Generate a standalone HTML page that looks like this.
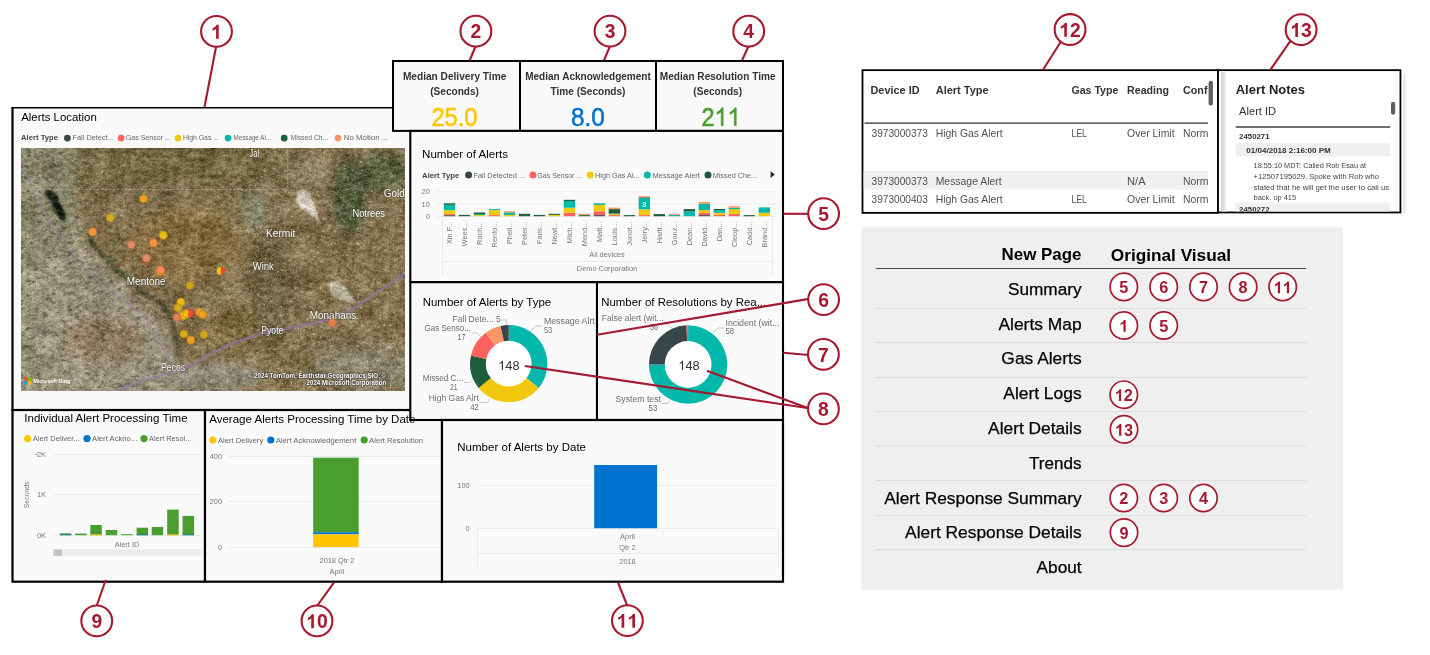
<!DOCTYPE html>
<html><head><meta charset="utf-8"><title>Dashboard mapping</title>
<style>
html,body{margin:0;padding:0;background:#fff;}
body{width:1430px;height:655px;overflow:hidden;font-family:"Liberation Sans",sans-serif;}
svg{display:block;position:absolute;left:0;top:0;will-change:transform;}
text{font-family:"Liberation Sans",sans-serif;}
.t{font-size:11.45px;fill:#000;}
.lg{font-size:7.6px;fill:#666;}
.lgb{font-size:7.6px;fill:#444;font-weight:bold;}
.ax{font-size:7.4px;fill:#777;}
.dl{font-size:9.2px;fill:#6e6e6e;}
.city{font-size:10.6px;fill:#fff;}
.cn{font-weight:bold;fill:#a6192e;text-anchor:middle;}
.tb{font-size:17.4px;fill:#000;stroke:#000;stroke-width:0.25px;}
.tbb{font-size:17.1px;fill:#000;font-weight:bold;}
.kp{font-size:10.1px;font-weight:bold;fill:#333;text-anchor:middle;}
.kv{font-size:25px;text-anchor:middle;}
.th{font-size:10.9px;font-weight:bold;fill:#333;}
.td{font-size:10.1px;fill:#505050;}
</style></head><body>
<svg width="1430" height="655" viewBox="0 0 1430 655">
<defs>
<filter id="sat" x="0" y="0" width="100%" height="100%" color-interpolation-filters="sRGB">
  <feTurbulence type="fractalNoise" baseFrequency="0.19 0.24" numOctaves="3" seed="11" result="n1"/>
  <feColorMatrix in="n1" type="matrix" values="1 0 0 0 0  1 0 0 0 0  1 0 0 0 0  0 0 0 0 1" result="g1"/>
  <feTurbulence type="fractalNoise" baseFrequency="0.045" numOctaves="3" seed="4" result="n2"/>
  <feColorMatrix in="n2" type="matrix" values="0 1 0 0 0  0 1 0 0 0  0 1 0 0 0  0 0 0 0 1" result="g2"/>
  <feTurbulence type="fractalNoise" baseFrequency="0.55 0.6" numOctaves="2" seed="23" result="n3"/>
  <feColorMatrix in="n3" type="matrix" values="0 0 1 0 0  0 0 1 0 0  0 0 1 0 0  0 0 0 0 1" result="g3"/>
  <feComposite in="SourceGraphic" in2="g1" operator="arithmetic" k1="0" k2="1" k3="0.36" k4="-0.18" result="c1"/>
  <feComposite in="c1" in2="g2" operator="arithmetic" k1="0" k2="1" k3="0.3" k4="-0.15" result="c2"/>
  <feComposite in="c2" in2="g3" operator="arithmetic" k1="0" k2="1" k3="0.3" k4="-0.15" result="c3"/>
  <feColorMatrix in="c3" type="matrix" values="0.94 0 0 0 0  0 0.935 0 0 0  0 0 0.92 0 0  0 0 0 1 0"/>
</filter>
<filter id="speck" x="0" y="0" width="100%" height="100%" color-interpolation-filters="sRGB">
  <feTurbulence type="fractalNoise" baseFrequency="0.3 0.33" numOctaves="2" seed="8"/>
  <feColorMatrix type="matrix" values="0 0 0 0 0.86  0 0 0 0 0.84  0 0 0 0 0.74  0 0 0 10 -6.9"/>
</filter>
<filter id="dspeck" x="0" y="0" width="100%" height="100%" color-interpolation-filters="sRGB">
  <feTurbulence type="fractalNoise" baseFrequency="0.12 0.2" numOctaves="3" seed="31"/>
  <feColorMatrix type="matrix" values="0 0 0 0 0.22  0 0 0 0 0.24  0 0 0 0 0.16  0 0 0 -10 3.7"/>
</filter>
<linearGradient id="spm" x1="0" x2="1"><stop offset="0" stop-color="#fff" stop-opacity="0"/><stop offset="0.5" stop-color="#fff" stop-opacity="0.1"/><stop offset="0.62" stop-color="#fff" stop-opacity="1"/><stop offset="1" stop-color="#fff" stop-opacity="1"/></linearGradient>
<mask id="rightmask"><rect x="21" y="148" width="384" height="243" fill="url(#spm)"/></mask>
<linearGradient id="spl" x1="0" x2="1"><stop offset="0" stop-color="#fff" stop-opacity="1"/><stop offset="0.3" stop-color="#fff" stop-opacity="0.8"/><stop offset="0.5" stop-color="#fff" stop-opacity="0"/></linearGradient>
<mask id="leftmask"><rect x="21" y="148" width="384" height="243" fill="url(#spl)"/></mask>
<filter id="b6"><feGaussianBlur stdDeviation="6"/></filter>
<filter id="b3"><feGaussianBlur stdDeviation="3"/></filter>
<filter id="b1"><feGaussianBlur stdDeviation="1.2"/></filter>
<clipPath id="mapclip"><rect x="21" y="148" width="383.5" height="243"/></clipPath>
<clipPath id="b10clip"><rect x="206" y="411" width="236" height="170"/></clipPath>
<clipPath id="b12clip"><rect x="863.4" y="71.1" width="344.6" height="140.8"/></clipPath>
<clipPath id="b13clip"><rect x="1219" y="71.1" width="180.5" height="140.4"/></clipPath>
</defs>

<rect x="12.5" y="107.7" width="400" height="302.3" fill="#fafafa" />
<line x1="12.5" y1="107" x2="12.5" y2="411" stroke="#000" stroke-width="2.2" />
<line x1="11.4" y1="107.7" x2="412" y2="107.7" stroke="#000" stroke-width="1.4" />
<line x1="11.4" y1="410" x2="412" y2="410" stroke="#000" stroke-width="2" />
<text x="21.2" y="121" class="t" textLength="75.6" lengthAdjust="spacingAndGlyphs">Alerts Location</text>
<text x="21" y="140.3" class="lgb" textLength="37" lengthAdjust="spacingAndGlyphs">Alert Type</text>
<circle cx="67.4" cy="138.1" r="3.4" fill="#374649" />
<text x="72.5" y="140.3" class="lg" textLength="41.3" lengthAdjust="spacingAndGlyphs">Fall Detect...</text>
<circle cx="121.1" cy="138.1" r="3.4" fill="#fd625e" />
<text x="125.8" y="140.3" class="lg" textLength="44.9" lengthAdjust="spacingAndGlyphs">Gas Sensor ...</text>
<circle cx="178" cy="138.1" r="3.4" fill="#f2c80f" />
<text x="182.9" y="140.3" class="lg" textLength="36" lengthAdjust="spacingAndGlyphs">High Gas ...</text>
<circle cx="228.1" cy="138.1" r="3.4" fill="#01b8aa" />
<text x="233.5" y="140.3" class="lg" textLength="37.5" lengthAdjust="spacingAndGlyphs">Message Al...</text>
<circle cx="284.2" cy="138.1" r="3.4" fill="#1f5c3b" />
<text x="290.6" y="140.3" class="lg" textLength="37.6" lengthAdjust="spacingAndGlyphs">Missed Ch...</text>
<circle cx="338" cy="138.1" r="3.4" fill="#fe9666" />
<text x="343.8" y="140.3" class="lg" textLength="44.5" lengthAdjust="spacingAndGlyphs">No Motion ...</text>
<g clip-path="url(#mapclip)">
<g filter="url(#sat)">
<rect x="21" y="148" width="384" height="243" fill="#8a7854" />
<g filter="url(#b6)">
<path d="M10,235 L85,245 L125,285 L160,320 L175,345 L180,400 L10,400 Z" fill="#a49d88"/>
<path d="M10,140 L80,140 L72,190 L85,240 L10,250 Z" fill="#939075"/>
<path d="M80,138 L300,138 L292,186 L80,190 Z" fill="#7b7048"/>
<ellipse cx="105" cy="338" rx="40" ry="24" fill="#9a856a"/>
<ellipse cx="350" cy="196" rx="17" ry="38" fill="#525d3e"/>
<ellipse cx="383" cy="172" rx="24" ry="20" fill="#5e6645"/>
<ellipse cx="215" cy="378" rx="45" ry="15" fill="#999584"/>
<ellipse cx="360" cy="368" rx="50" ry="25" fill="#938b72"/>
<ellipse cx="185" cy="245" rx="55" ry="38" fill="#917648"/>
<ellipse cx="235" cy="330" rx="28" ry="22" fill="#877548"/>
<ellipse cx="272" cy="285" rx="20" ry="55" fill="#756b46"/>
<ellipse cx="255" cy="210" rx="14" ry="22" fill="#8d8a72"/>
<ellipse cx="305" cy="175" rx="22" ry="20" fill="#948a66"/>
<ellipse cx="385" cy="285" rx="28" ry="30" fill="#8a7b54"/>
</g>
<g filter="url(#b1)">
<path d="M296.5,192 Q302,188 309,192 L314,203 L319,222 L313,217 L308,211 L301,209 L297,201 Z" fill="#dcd8cb" opacity="0.95"/>
<path d="M328,283 Q336,279 346,287 L356,303 L346,302 L338,299 L331,294 Z" fill="#cfcab9" opacity="0.9"/>
<path d="M386,343 l7,3 l-1.5,3.5 l-7,-3 z" fill="#c4bfae" opacity="0.7"/>
<path d="M44,190 L50,189 L54,192 L58,196 L59,203 L63,208 L66,214 L65,221 L60,220 L57,214 L54,209 L52,203 L48,199 L45,195 Z" fill="#1a2216"/>
<path d="M87.8,237 L102.6,255.6 L117.5,270.4 L143.4,292.7 L162,303.8 L173,322.4 L176.8,341" stroke="#474c33" stroke-width="5" fill="none" opacity="0.75" stroke-linejoin="round"/>
<path d="M176.8,341 L180,358 L186,372" stroke="#50533a" stroke-width="3" fill="none" opacity="0.6"/>
<path d="M25,260 L50,275 L70,300 M30,330 L60,335 L85,320 M40,290 L60,310 M95,300 L110,330 L100,360" stroke="#77745f" stroke-width="1.5" fill="none" opacity="0.7"/>
</g>
</g>
<g mask="url(#rightmask)" opacity="0.55"><rect x="21" y="148" width="384" height="243" filter="url(#speck)"/></g>
<g mask="url(#leftmask)" opacity="0.5"><rect x="21" y="148" width="384" height="243" filter="url(#dspeck)"/></g>
<path d="M21,189.6 H287.4 V148" stroke="#c4c4bc" stroke-width="0.9" stroke-dasharray="2.5 1.5" fill="none" opacity="0.6"/>
<g stroke="#9a7fa8" fill="none" opacity="0.75" stroke-linejoin="round">
<path opacity="0.7" d="M21,159 L32,189 L43,211 L65.5,244.5 L95,278 L117.5,296.4 L143.4,315 L162,344.7 L173,367 L176,371" stroke-width="1.6"/>
<path d="M113.8,391 L150.9,378 L176.8,370.6" stroke-width="2"/>
<path d="M184,371 L188,391" stroke-width="1.3"/>
<path d="M176.8,370.6 L190,366 L206.5,355.8 L228.8,344.7 L262,333.5 L299,326 L332.7,318.7 L355,307.6 L377,292.7 L404.5,273.5" stroke-width="2.6"/>
</g>
<path d="M176.8,370.6 L190,366 L206.5,355.8 L228.8,344.7 L262,333.5 L299,326 L332.7,318.7 L355,307.6 L377,292.7 L404.5,273.5" stroke="#6a5478" stroke-width="0.6" fill="none" opacity="0.6"/>
<text x="249.3" y="157.3" class="city" textLength="9.9" lengthAdjust="spacingAndGlyphs" stroke="#2a2a1a" stroke-width="1.4" stroke-opacity="0.4" paint-order="stroke">Jal</text>
<text x="383.8" y="196.6" class="city" textLength="21" lengthAdjust="spacingAndGlyphs" stroke="#2a2a1a" stroke-width="1.4" stroke-opacity="0.4" paint-order="stroke">Gold</text>
<text x="352.5" y="217.4" class="city" textLength="32.5" lengthAdjust="spacingAndGlyphs" stroke="#2a2a1a" stroke-width="1.4" stroke-opacity="0.4" paint-order="stroke">Notrees</text>
<text x="266" y="236.7" class="city" textLength="29.3" lengthAdjust="spacingAndGlyphs" stroke="#2a2a1a" stroke-width="1.4" stroke-opacity="0.4" paint-order="stroke">Kermit</text>
<text x="252.7" y="269.6" class="city" textLength="21.2" lengthAdjust="spacingAndGlyphs" stroke="#2a2a1a" stroke-width="1.4" stroke-opacity="0.4" paint-order="stroke">Wink</text>
<text x="126.8" y="284.5" class="city" textLength="38.8" lengthAdjust="spacingAndGlyphs" stroke="#2a2a1a" stroke-width="1.4" stroke-opacity="0.4" paint-order="stroke">Mentone</text>
<text x="309.8" y="319" class="city" textLength="46.4" lengthAdjust="spacingAndGlyphs" stroke="#2a2a1a" stroke-width="1.4" stroke-opacity="0.4" paint-order="stroke">Monahans</text>
<text x="261.2" y="334.4" class="city" textLength="22.2" lengthAdjust="spacingAndGlyphs" stroke="#2a2a1a" stroke-width="1.4" stroke-opacity="0.4" paint-order="stroke">Pyote</text>
<text x="161" y="370.8" class="city" textLength="24.2" lengthAdjust="spacingAndGlyphs" stroke="#2a2a1a" stroke-width="1.4" stroke-opacity="0.4" paint-order="stroke">Pecos</text>
<circle cx="143.5" cy="198.8" r="3.9" fill="#f5a623" stroke="#d28118" stroke-width="0.9" fill-opacity="0.92"/>
<circle cx="110.3" cy="217.9" r="3.9" fill="#d9b21c" stroke="#ba8a13" stroke-width="0.9" fill-opacity="0.92"/>
<circle cx="92.7" cy="231.8" r="3.9" fill="#ff9a3c" stroke="#db782a" stroke-width="0.9" fill-opacity="0.92"/>
<circle cx="163.4" cy="235.3" r="3.9" fill="#f2c811" stroke="#d09c0b" stroke-width="0.9" fill-opacity="0.92"/>
<circle cx="153.4" cy="242.9" r="3.9" fill="#ff9a3c" stroke="#db782a" stroke-width="0.9" fill-opacity="0.92"/>
<circle cx="131.4" cy="244.7" r="3.9" fill="#e8916a" stroke="#c7714a" stroke-width="0.9" fill-opacity="0.92"/>
<circle cx="146.5" cy="258.2" r="3.9" fill="#e8916a" stroke="#c7714a" stroke-width="0.9" fill-opacity="0.92"/>
<circle cx="160.2" cy="271.5" r="3.9" fill="#e9b320" stroke="#c88b16" stroke-width="0.9" fill-opacity="0.92"/>
<circle cx="160.6" cy="270" r="3.9" fill="#ff8c5a" stroke="#db6d3e" stroke-width="0.9" fill-opacity="0.92"/>
<circle cx="189.8" cy="285.5" r="3.9" fill="#d9a81e" stroke="#ba8315" stroke-width="0.9" fill-opacity="0.92"/>
<circle cx="180.8" cy="302.1" r="3.9" fill="#f2c20f" stroke="#d0970a" stroke-width="0.9" fill-opacity="0.92"/>
<circle cx="177.9" cy="307.7" r="3.9" fill="#d9b21c" stroke="#ba8a13" stroke-width="0.9" fill-opacity="0.92"/>
<circle cx="199.7" cy="312.1" r="3.9" fill="#f0a826" stroke="#ce831a" stroke-width="0.9" fill-opacity="0.92"/>
<circle cx="202.7" cy="314.6" r="3.9" fill="#f0a826" stroke="#ce831a" stroke-width="0.9" fill-opacity="0.92"/>
<circle cx="183.2" cy="315.6" r="3.9" fill="#f2c20f" stroke="#d0970a" stroke-width="0.9" fill-opacity="0.92"/>
<circle cx="189.8" cy="313.3" r="3.9" fill="#f5453f" stroke="#d2352c" stroke-width="0.9" fill-opacity="0.92"/>
<circle cx="186.8" cy="313.7" r="3.9" fill="#f2c20f" stroke="#d0970a" stroke-width="0.9" fill-opacity="0.92"/>
<circle cx="176.9" cy="317.2" r="3.9" fill="#e8805a" stroke="#c7633e" stroke-width="0.9" fill-opacity="0.92"/>
<circle cx="183.8" cy="333.9" r="3.9" fill="#d9b21c" stroke="#ba8a13" stroke-width="0.9" fill-opacity="0.92"/>
<circle cx="203.9" cy="334.5" r="3.9" fill="#d4ae22" stroke="#b68717" stroke-width="0.9" fill-opacity="0.92"/>
<circle cx="190.8" cy="339.9" r="3.9" fill="#f0a826" stroke="#ce831a" stroke-width="0.9" fill-opacity="0.92"/>
<circle cx="332.4" cy="322.7" r="3.9" fill="#e8804a" stroke="#c76333" stroke-width="0.9" fill-opacity="0.92"/>
<path d="M220.9,266.4 a4.2,4.2 0 0 0 0,8.4 z" fill="#f2c811"/><path d="M220.9,266.4 a4.2,4.2 0 0 1 0,8.4 z" fill="#f5453f"/>
<path d="M188.3,309.4 a4.2,4.2 0 0 1 0,8.4 z" fill="#f5453f"/>
<rect x="24.4" y="377.2" width="3.4" height="3.5" fill="#f25022" />
<rect x="28.2" y="377.2" width="3.4" height="3.5" fill="#7fba00" />
<rect x="24.4" y="381.1" width="3.4" height="3.5" fill="#00a4ef" />
<rect x="28.2" y="381.1" width="3.4" height="3.5" fill="#ffb900" />
<text x="33.5" y="382.9" font-size="6.2" font-weight="bold" fill="#fff" textLength="36.7" lengthAdjust="spacingAndGlyphs">Microsoft Bing</text>
<text x="386.2" y="377.7" font-size="6.4" fill="#fff" text-anchor="end" textLength="138.5" lengthAdjust="spacingAndGlyphs" stroke="#222" stroke-width="1.1" stroke-opacity="0.7" paint-order="stroke" font-weight="bold">© 2024 TomTom, Earthstar Geographics SIO, ©</text>
<text x="386.2" y="385" font-size="6.4" fill="#fff" text-anchor="end" textLength="79.6" lengthAdjust="spacingAndGlyphs" stroke="#222" stroke-width="1.1" stroke-opacity="0.7" paint-order="stroke" font-weight="bold">2024 Microsoft Corporation</text>
</g>
<rect x="12.5" y="410" width="192.5" height="171.7" fill="#fafafa" stroke="#000" stroke-width="2.2" />
<text x="24.3" y="422" class="t" textLength="163.3" lengthAdjust="spacingAndGlyphs">Individual Alert Processing Time</text>
<circle cx="27.5" cy="438.6" r="3.6" fill="#ffc600" />
<text x="32.7" y="441" class="lg" textLength="47" lengthAdjust="spacingAndGlyphs">Alert Deliver...</text>
<circle cx="87" cy="438.6" r="3.6" fill="#0073cf" />
<text x="92" y="441" class="lg" textLength="45.3" lengthAdjust="spacingAndGlyphs">Alert Ackno...</text>
<circle cx="144" cy="438.6" r="3.6" fill="#4a9e2f" />
<text x="149" y="441" class="lg" textLength="42.3" lengthAdjust="spacingAndGlyphs">Alert Resol...</text>
<line x1="53.5" y1="454.5" x2="201" y2="454.5" stroke="#eaeaea" stroke-width="1" />
<text x="46" y="457.0" class="ax" text-anchor="end">2K</text>
<line x1="53.5" y1="494.5" x2="201" y2="494.5" stroke="#eaeaea" stroke-width="1" />
<text x="46" y="497.40000000000003" class="ax" text-anchor="end">1K</text>
<line x1="53.5" y1="535.5" x2="201" y2="535.5" stroke="#eaeaea" stroke-width="1" />
<text x="46" y="537.8000000000001" class="ax" text-anchor="end">0K</text>
<text x="29.5" y="494.8" class="ax" text-anchor="middle" transform="rotate(-90 29.5 494.8)" textLength="27" lengthAdjust="spacingAndGlyphs">Seconds</text>
<rect x="59.8" y="533.4" width="11.5" height="1.8000000000000682" fill="#4a9e2f" />
<rect x="59.8" y="534.5" width="11.5" height="0.7" fill="#0073cf" />
<rect x="75.2" y="533.6" width="11.5" height="1.6000000000000227" fill="#4a9e2f" />
<rect x="90.3" y="525" width="11.5" height="10.200000000000045" fill="#4a9e2f" />
<rect x="90.3" y="534.3" width="11.5" height="0.9" fill="#ffc600" />
<rect x="105.7" y="530" width="11.5" height="5.2000000000000455" fill="#4a9e2f" />
<rect x="121.2" y="534.2" width="11.5" height="1.0" fill="#4a9e2f" />
<rect x="136.6" y="527.7" width="11.5" height="7.5" fill="#4a9e2f" />
<rect x="136.6" y="534.5" width="11.5" height="0.7" fill="#0073cf" />
<rect x="151.7" y="527" width="11.5" height="8.200000000000045" fill="#4a9e2f" />
<rect x="167.2" y="509.6" width="11.5" height="25.600000000000023" fill="#4a9e2f" />
<rect x="167.2" y="534.3" width="11.5" height="0.9" fill="#ffc600" />
<rect x="182.6" y="515.9" width="11.5" height="19.300000000000068" fill="#4a9e2f" />
<rect x="182.6" y="534.5" width="11.5" height="0.7" fill="#0073cf" />
<text x="127" y="547" class="ax" text-anchor="middle" font-size="7.8">Alert ID</text>
<circle cx="36.6" cy="454.3" r="0.8" fill="#777" />
<rect x="53.5" y="549.4" width="147.5" height="6.6" fill="#ececec" />
<rect x="53.5" y="549.4" width="8.5" height="6.6" fill="#c4c4c4" />
<rect x="205" y="410" width="237" height="171.7" fill="#fafafa" stroke="#000" stroke-width="2.2" />
<g clip-path="url(#b10clip)">
<circle cx="212.8" cy="440" r="3.6" fill="#ffc600" />
<text x="218" y="442.5" class="lg" textLength="45.2" lengthAdjust="spacingAndGlyphs">Alert Delivery</text>
<circle cx="270.8" cy="440" r="3.6" fill="#0073cf" />
<text x="275.7" y="442.5" class="lg" textLength="80.6" lengthAdjust="spacingAndGlyphs">Alert Acknowledgement</text>
<circle cx="364.2" cy="440" r="3.6" fill="#4a9e2f" />
<text x="369.1" y="442.5" class="lg" textLength="54" lengthAdjust="spacingAndGlyphs">Alert Resolution</text>
<line x1="229" y1="456.5" x2="444" y2="456.5" stroke="#eaeaea" stroke-width="1" />
<text x="222" y="458.9" class="ax" text-anchor="end">400</text>
<line x1="229" y1="501.5" x2="444" y2="501.5" stroke="#eaeaea" stroke-width="1" />
<text x="222" y="504.0" class="ax" text-anchor="end">200</text>
<line x1="229" y1="547.5" x2="444" y2="547.5" stroke="#eaeaea" stroke-width="1" />
<text x="222" y="549.8000000000001" class="ax" text-anchor="end">0</text>
<rect x="313.2" y="457.7" width="45.5" height="74.5" fill="#4a9e2f" />
<rect x="313.2" y="532.2" width="45.5" height="2.1" fill="#0073cf" />
<rect x="313.2" y="534.3" width="45.5" height="12.8" fill="#ffc600" />
<text x="337" y="563.2" class="ax" text-anchor="middle">2018 Qtr 2</text>
<text x="337" y="573.6" class="ax" text-anchor="middle">April</text>
</g>
<rect x="393" y="61" width="390" height="69.9" fill="#fafafa" stroke="#000" stroke-width="2" />
<line x1="520" y1="60" x2="520" y2="131.5" stroke="#000" stroke-width="2" />
<line x1="656" y1="60" x2="656" y2="131.5" stroke="#000" stroke-width="2" />
<text x="454.6" y="79.9" class="kp" textLength="103.4" lengthAdjust="spacingAndGlyphs">Median Delivery Time</text>
<text x="454.6" y="94.6" class="kp" >(Seconds)</text>
<text x="454.5" y="125.7" class="kv" fill="#ffc600" stroke="#ffc600" stroke-width="0.55" textLength="46.1" lengthAdjust="spacingAndGlyphs">25.0</text>
<text x="588" y="79.9" class="kp" textLength="125.7" lengthAdjust="spacingAndGlyphs">Median Acknowledgement</text>
<text x="588" y="94.6" class="kp" >Time (Seconds)</text>
<text x="587.8" y="125.7" class="kv" fill="#0073cf" stroke="#0073cf" stroke-width="0.55" textLength="33.8" lengthAdjust="spacingAndGlyphs">8.0</text>
<text x="717.7" y="79.9" class="kp" textLength="115.7" lengthAdjust="spacingAndGlyphs">Median Resolution Time</text>
<text x="717.7" y="94.6" class="kp" >(Seconds)</text>
<g transform="translate(721.00 125.70) scale(0.9397 1)">
<text x="-20.86" y="0" font-size="25" fill="#4a9e2f" stroke="#4a9e2f" stroke-width="0.55">2</text>
<path d="M763 0 L583 0 L583 1147 Q518 1085 412.5 1023 Q307 961 223 930 L223 1104 Q374 1175 487 1276 Q600 1377 647 1472 L763 1472 Z" fill="#4a9e2f" stroke="#4a9e2f" stroke-width="45.1" transform="translate(-6.95 0) scale(0.01221 -0.01221)"/>
<path d="M763 0 L583 0 L583 1147 Q518 1085 412.5 1023 Q307 961 223 930 L223 1104 Q374 1175 487 1276 Q600 1377 647 1472 L763 1472 Z" fill="#4a9e2f" stroke="#4a9e2f" stroke-width="45.1" transform="translate(6.95 0) scale(0.01221 -0.01221)"/>
</g>
<rect x="410.3" y="130.9" width="372.7" height="151.3" fill="#fafafa" stroke="#000" stroke-width="2.1" />
<text x="422.1" y="158.4" class="t" textLength="85.9" lengthAdjust="spacingAndGlyphs">Number of Alerts</text>
<text x="422.1" y="177.8" class="lgb" textLength="37.1" lengthAdjust="spacingAndGlyphs">Alert Type</text>
<circle cx="468.6" cy="175.1" r="3.5" fill="#374649" />
<text x="473.4" y="177.8" class="lg" textLength="51.8" lengthAdjust="spacingAndGlyphs">Fall Detected ...</text>
<circle cx="532.9" cy="175.1" r="3.5" fill="#fd625e" />
<text x="537.3" y="177.8" class="lg" textLength="44.9" lengthAdjust="spacingAndGlyphs">Gas Sensor ...</text>
<circle cx="590.2" cy="175.1" r="3.5" fill="#f2c80f" />
<text x="595" y="177.8" class="lg" textLength="44.7" lengthAdjust="spacingAndGlyphs">High Gas Al...</text>
<circle cx="647.3" cy="175.1" r="3.5" fill="#01b8aa" />
<text x="652.6" y="177.8" class="lg" textLength="47.3" lengthAdjust="spacingAndGlyphs">Message Alert</text>
<circle cx="708" cy="175.1" r="3.5" fill="#1f5c3b" />
<text x="712.7" y="177.8" class="lg" textLength="44.5" lengthAdjust="spacingAndGlyphs">Missed Che...</text>
<path d="M770.6,171.3 L774.8,174.6 L770.6,177.9 Z" fill="#222"/>
<line x1="437" y1="191.5" x2="776.5" y2="191.5" stroke="#ebebeb" stroke-width="1"/>
<text x="429.8" y="194.1" class="ax" text-anchor="end">20</text>
<line x1="437" y1="204.0" x2="776.5" y2="204.0" stroke="#ebebeb" stroke-width="1"/>
<text x="429.8" y="206.6" class="ax" text-anchor="end">10</text>
<line x1="437" y1="216.5" x2="776.5" y2="216.5" stroke="#ebebeb" stroke-width="1"/>
<text x="429.8" y="219.1" class="ax" text-anchor="end">0</text>
<rect x="443.8" y="215.2" width="11.4" height="1" fill="#374649" />
<rect x="443.8" y="214.1" width="11.4" height="1.1" fill="#fd625e" />
<rect x="443.8" y="210.1" width="11.4" height="4" fill="#f2c80f" />
<rect x="443.8" y="204.8" width="11.4" height="5.3" fill="#01b8aa" />
<rect x="443.8" y="203.3" width="11.4" height="1.5" fill="#1f5c3b" />
<text x="452.20" y="221.5" class="ax" text-anchor="end" transform="rotate(-90 452.20 221.5)">Xin F...</text>
<rect x="458.79" y="214.9" width="11.4" height="1.3" fill="#1f5c3b" />
<text x="467.19" y="221.5" class="ax" text-anchor="end" transform="rotate(-90 467.19 221.5)">Wees...</text>
<rect x="473.78" y="215.0" width="11.4" height="1.2" fill="#f2c80f" />
<rect x="473.78" y="214.0" width="11.4" height="1" fill="#01b8aa" />
<rect x="473.78" y="212.5" width="11.4" height="1.5" fill="#1f5c3b" />
<text x="482.18" y="221.5" class="ax" text-anchor="end" transform="rotate(-90 482.18 221.5)">Roch...</text>
<rect x="488.77" y="215.1" width="11.4" height="1.1" fill="#fd625e" />
<rect x="488.77" y="210.1" width="11.4" height="5" fill="#f2c80f" />
<rect x="488.77" y="209.1" width="11.4" height="1" fill="#01b8aa" />
<text x="497.17" y="221.5" class="ax" text-anchor="end" transform="rotate(-90 497.17 221.5)">Renfo...</text>
<rect x="503.76" y="214.9" width="11.4" height="1.3" fill="#f2c80f" />
<rect x="503.76" y="212.4" width="11.4" height="2.5" fill="#01b8aa" />
<rect x="503.76" y="211.1" width="11.4" height="1.3" fill="#fe9666" />
<text x="512.16" y="221.5" class="ax" text-anchor="end" transform="rotate(-90 512.16 221.5)">Pheli...</text>
<rect x="518.75" y="213.8" width="11.4" height="2.4" fill="#1f5c3b" />
<text x="527.15" y="221.5" class="ax" text-anchor="end" transform="rotate(-90 527.15 221.5)">Peter...</text>
<rect x="533.74" y="214.9" width="11.4" height="1.3" fill="#1f5c3b" />
<text x="542.14" y="221.5" class="ax" text-anchor="end" transform="rotate(-90 542.14 221.5)">Faris...</text>
<rect x="548.73" y="214.9" width="11.4" height="1.3" fill="#f2c80f" />
<rect x="548.73" y="213.8" width="11.4" height="1.1" fill="#1f5c3b" />
<text x="557.13" y="221.5" class="ax" text-anchor="end" transform="rotate(-90 557.13 221.5)">Newt...</text>
<rect x="563.72" y="212.8" width="11.4" height="3.4" fill="#fd625e" />
<rect x="563.72" y="207.7" width="11.4" height="5.1" fill="#f2c80f" />
<rect x="563.72" y="201.1" width="11.4" height="6.6" fill="#01b8aa" />
<rect x="563.72" y="199.8" width="11.4" height="1.3" fill="#1f5c3b" />
<text x="572.12" y="221.5" class="ax" text-anchor="end" transform="rotate(-90 572.12 221.5)">Mich...</text>
<rect x="578.71" y="215.1" width="11.4" height="1.1" fill="#1f5c3b" />
<rect x="578.71" y="213.9" width="11.4" height="1.2" fill="#fe9666" />
<text x="587.11" y="221.5" class="ax" text-anchor="end" transform="rotate(-90 587.11 221.5)">Mend...</text>
<rect x="593.7" y="215.1" width="11.4" height="1.1" fill="#374649" />
<rect x="593.7" y="211.3" width="11.4" height="3.8" fill="#fd625e" />
<rect x="593.7" y="204.9" width="11.4" height="6.4" fill="#f2c80f" />
<rect x="593.7" y="203.3" width="11.4" height="1.6" fill="#01b8aa" />
<text x="602.10" y="221.5" class="ax" text-anchor="end" transform="rotate(-90 602.10 221.5)">Matt...</text>
<rect x="608.69" y="215.1" width="11.4" height="1.1" fill="#fd625e" />
<rect x="608.69" y="214.1" width="11.4" height="1" fill="#f2c80f" />
<rect x="608.69" y="213.5" width="11.4" height="0.6" fill="#01b8aa" />
<rect x="608.69" y="209.1" width="11.4" height="4.4" fill="#1f5c3b" />
<rect x="608.69" y="207.6" width="11.4" height="1.5" fill="#fe9666" />
<text x="617.09" y="221.5" class="ax" text-anchor="end" transform="rotate(-90 617.09 221.5)">Louis...</text>
<rect x="623.68" y="215.1" width="11.4" height="1.1" fill="#1f5c3b" />
<text x="632.08" y="221.5" class="ax" text-anchor="end" transform="rotate(-90 632.08 221.5)">Jonot...</text>
<rect x="638.67" y="215.1" width="11.4" height="1.1" fill="#fd625e" />
<rect x="638.67" y="209.3" width="11.4" height="5.8" fill="#f2c80f" />
<rect x="638.67" y="198.1" width="11.4" height="11.2" fill="#01b8aa" />
<rect x="638.67" y="197.3" width="11.4" height="0.8" fill="#1f5c3b" />
<rect x="638.67" y="196.2" width="11.4" height="1.1" fill="#fe9666" />
<text x="647.07" y="221.5" class="ax" text-anchor="end" transform="rotate(-90 647.07 221.5)">Jerry...</text>
<rect x="653.66" y="214.1" width="11.4" height="2.1" fill="#1f5c3b" />
<text x="662.06" y="221.5" class="ax" text-anchor="end" transform="rotate(-90 662.06 221.5)">Harti...</text>
<rect x="668.65" y="214.9" width="11.4" height="1.3" fill="#01b8aa" />
<rect x="668.65" y="213.9" width="11.4" height="1" fill="#fe9666" />
<text x="677.05" y="221.5" class="ax" text-anchor="end" transform="rotate(-90 677.05 221.5)">Gonz...</text>
<rect x="683.64" y="211.2" width="11.4" height="5" fill="#01b8aa" />
<rect x="683.64" y="209.1" width="11.4" height="2.1" fill="#1f5c3b" />
<text x="692.04" y="221.5" class="ax" text-anchor="end" transform="rotate(-90 692.04 221.5)">Dean...</text>
<rect x="698.63" y="215.1" width="11.4" height="1.1" fill="#374649" />
<rect x="698.63" y="212.8" width="11.4" height="2.3" fill="#fd625e" />
<rect x="698.63" y="210.0" width="11.4" height="2.8" fill="#f2c80f" />
<rect x="698.63" y="204.0" width="11.4" height="6" fill="#01b8aa" />
<rect x="698.63" y="202.1" width="11.4" height="1.9" fill="#fe9666" />
<text x="707.03" y="221.5" class="ax" text-anchor="end" transform="rotate(-90 707.03 221.5)">David...</text>
<rect x="713.62" y="214.9" width="11.4" height="1.3" fill="#fd625e" />
<rect x="713.62" y="212.8" width="11.4" height="2.1" fill="#f2c80f" />
<rect x="713.62" y="210.0" width="11.4" height="2.8" fill="#01b8aa" />
<rect x="713.62" y="209.0" width="11.4" height="1" fill="#1f5c3b" />
<text x="722.02" y="221.5" class="ax" text-anchor="end" transform="rotate(-90 722.02 221.5)">Dan...</text>
<rect x="728.61" y="214.1" width="11.4" height="2.1" fill="#fd625e" />
<rect x="728.61" y="209.1" width="11.4" height="5" fill="#f2c80f" />
<rect x="728.61" y="207.8" width="11.4" height="1.3" fill="#01b8aa" />
<rect x="728.61" y="206.2" width="11.4" height="1.6" fill="#fe9666" />
<text x="737.01" y="221.5" class="ax" text-anchor="end" transform="rotate(-90 737.01 221.5)">Cleop...</text>
<rect x="743.6" y="215.1" width="11.4" height="1.1" fill="#1f5c3b" />
<text x="752.00" y="221.5" class="ax" text-anchor="end" transform="rotate(-90 752.00 221.5)">Cadd...</text>
<rect x="758.59" y="212.8" width="11.4" height="3.4" fill="#f2c80f" />
<rect x="758.59" y="207.4" width="11.4" height="5.4" fill="#01b8aa" />
<text x="766.99" y="221.5" class="ax" text-anchor="end" transform="rotate(-90 766.99 221.5)">Brand...</text>
<text x="644.3" y="206.6" class="ax" text-anchor="middle" fill="#fff" style="fill:#fff">8</text>
<line x1="442.5" y1="216.5" x2="442.5" y2="275" stroke="#eaeaea" stroke-width="1" />
<line x1="772.5" y1="216.5" x2="772.5" y2="275" stroke="#eaeaea" stroke-width="1" />
<line x1="442.5" y1="261.5" x2="772.3" y2="261.5" stroke="#eaeaea" stroke-width="1" />
<text x="607" y="257.0" class="ax" text-anchor="middle" font-size="7.8">All devices</text>
<text x="607" y="271" class="ax" text-anchor="middle" font-size="7.8">Demo Corporation</text>
<rect x="410.3" y="282.2" width="186.7" height="137.8" fill="#fafafa" stroke="#000" stroke-width="2.1" />
<rect x="597" y="282.2" width="186" height="137.8" fill="#fafafa" stroke="#000" stroke-width="2.1" />
<text x="209.2" y="423.3" class="t" textLength="206.3" lengthAdjust="spacingAndGlyphs">Average Alerts Processing Time by Date</text>
<text x="422.7" y="306.1" class="t" textLength="128.5" lengthAdjust="spacingAndGlyphs">Number of Alerts by Type</text>
<text x="601.2" y="306.0" class="t" textLength="165" lengthAdjust="spacingAndGlyphs">Number of Resolutions by Rea...</text>
<circle cx="508.7" cy="363.7" r="23" fill="#fff" />
<circle cx="688.1" cy="364.5" r="23.4" fill="#fff" />
<path d="M508.70,325.10 A38.6,38.6 0 0 1 538.73,387.95 L526.52,378.09 A22.9,22.9 0 0 0 508.70,340.80 Z" fill="#01b8aa"/>
<path d="M538.73,387.95 A38.6,38.6 0 0 1 478.67,387.95 L490.88,378.09 A22.9,22.9 0 0 0 526.52,378.09 Z" fill="#f2c80f"/>
<path d="M478.67,387.95 A38.6,38.6 0 0 1 470.97,355.57 L486.31,358.88 A22.9,22.9 0 0 0 490.88,378.09 Z" fill="#1f5c3b"/>
<path d="M470.97,355.57 A38.6,38.6 0 0 1 485.75,332.67 L495.08,345.29 A22.9,22.9 0 0 0 486.31,358.88 Z" fill="#fd625e"/>
<path d="M485.75,332.67 A38.6,38.6 0 0 1 500.57,325.97 L503.88,341.31 A22.9,22.9 0 0 0 495.08,345.29 Z" fill="#fe9666"/>
<path d="M500.57,325.97 A38.6,38.6 0 0 1 508.70,325.10 L508.70,340.80 A22.9,22.9 0 0 0 503.88,341.31 Z" fill="#374649"/>
<path d="M688.10,325.30 A39.2,39.2 0 1 1 648.90,364.50 L664.70,364.50 A23.4,23.4 0 1 0 688.10,341.10 Z" fill="#01b8aa"/>
<path d="M648.90,364.50 A39.2,39.2 0 0 1 686.44,325.34 L687.11,341.12 A23.4,23.4 0 0 0 664.70,364.50 Z" fill="#374649"/>
<path d="M686.44,325.34 A39.2,39.2 0 0 1 688.10,325.30 L688.10,341.10 A23.4,23.4 0 0 0 687.11,341.12 Z" fill="#fd625e"/>
<g transform="translate(508.90 370.00) scale(1.0000 1)">
<path d="M763 0 L583 0 L583 1147 Q518 1085 412.5 1023 Q307 961 223 930 L223 1104 Q374 1175 487 1276 Q600 1377 647 1472 L763 1472 Z" fill="#333" transform="translate(-10.68 0) scale(0.00625 -0.00625)"/>
<text x="-3.56" y="0" font-size="12.8" fill="#333">4</text>
<text x="3.56" y="0" font-size="12.8" fill="#333">8</text>
</g>
<g transform="translate(689.00 370.00) scale(1.0000 1)">
<path d="M763 0 L583 0 L583 1147 Q518 1085 412.5 1023 Q307 961 223 930 L223 1104 Q374 1175 487 1276 Q600 1377 647 1472 L763 1472 Z" fill="#333" transform="translate(-10.68 0) scale(0.00625 -0.00625)"/>
<text x="-3.56" y="0" font-size="12.8" fill="#333">4</text>
<text x="3.56" y="0" font-size="12.8" fill="#333">8</text>
</g>
<text x="452.6" y="322.1" class="dl" textLength="48.1" lengthAdjust="spacingAndGlyphs">Fall Dete... 5</text>
<text x="424.5" y="331.4" class="dl" textLength="46.5" lengthAdjust="spacingAndGlyphs">Gas Senso...</text>
<text x="457.5" y="339.8" class="dl" textLength="8" lengthAdjust="spacingAndGlyphs">17</text>
<text x="543.9" y="324.3" class="dl" textLength="50.9" lengthAdjust="spacingAndGlyphs">Message Alrt</text>
<text x="543.9" y="333.2" class="dl" textLength="8.4" lengthAdjust="spacingAndGlyphs">53</text>
<text x="422.7" y="380.8" class="dl" textLength="40.5" lengthAdjust="spacingAndGlyphs">Missed C...</text>
<text x="450" y="389.6" class="dl" textLength="7.7" lengthAdjust="spacingAndGlyphs">21</text>
<text x="428.7" y="400.7" class="dl" textLength="50.1" lengthAdjust="spacingAndGlyphs">High Gas Alrt</text>
<text x="470.3" y="409.6" class="dl" textLength="8.5" lengthAdjust="spacingAndGlyphs">42</text>
<text x="601.8" y="321" class="dl" textLength="61.8" lengthAdjust="spacingAndGlyphs">False alert (wit...</text>
<text x="649.9" y="330.1" class="dl" textLength="8.2" lengthAdjust="spacingAndGlyphs">36</text>
<text x="725.5" y="326" class="dl" textLength="53.9" lengthAdjust="spacingAndGlyphs">Incident (wit...</text>
<text x="725.5" y="334.2" class="dl" textLength="8.5" lengthAdjust="spacingAndGlyphs">58</text>
<text x="615.5" y="401.9" class="dl" textLength="45.4" lengthAdjust="spacingAndGlyphs">System test</text>
<text x="648.5" y="410.7" class="dl" textLength="8.8" lengthAdjust="spacingAndGlyphs">53</text>
<g stroke="#bdbdbd" stroke-width="0.8" fill="none">
<path d="M501.5,320 H506.4 V325"/><path d="M471.5,333 H477 L482,338"/><path d="M542.5,326 H536 L530,331.5"/><path d="M464,382.5 H470 L473,379"/><path d="M479.5,402.5 H487 L490,399"/>
<path d="M664,322 L672,328"/><path d="M724,328 H718 L713,333"/><path d="M661.5,403.5 H668 L670,400.5"/>
</g>
<rect x="442" y="420" width="341" height="161.7" fill="#fafafa" stroke="#000" stroke-width="2.2" />
<text x="457.3" y="451.0" class="t" textLength="128.7" lengthAdjust="spacingAndGlyphs">Number of Alerts by Date</text>
<line x1="477.5" y1="485.5" x2="778" y2="485.5" stroke="#eaeaea" stroke-width="1" />
<text x="469.7" y="487.8" class="ax" text-anchor="end" font-size="6.8">100</text>
<line x1="477.5" y1="528.5" x2="778" y2="528.5" stroke="#eaeaea" stroke-width="1" />
<text x="469.7" y="530.8000000000001" class="ax" text-anchor="end" font-size="6.8">0</text>
<rect x="594.2" y="465" width="62.9" height="63.2" fill="#0073cf" />
<line x1="477.5" y1="528.2" x2="477.5" y2="567.5" stroke="#eaeaea" stroke-width="1" />
<line x1="778.5" y1="528.2" x2="778.5" y2="567.5" stroke="#eaeaea" stroke-width="1" />
<line x1="477.5" y1="553.5" x2="778" y2="553.5" stroke="#eaeaea" stroke-width="1" />
<text x="627.5" y="538.6" class="ax" text-anchor="middle">April</text>
<text x="627.5" y="549.8" class="ax" text-anchor="middle">Qtr 2</text>
<text x="627.5" y="563.7" class="ax" text-anchor="middle">2018</text>
<rect x="862.5" y="70.15" width="355.5" height="142.7" fill="#fff" stroke="#000" stroke-width="1.8" />
<g clip-path="url(#b12clip)">
<rect x="863.5" y="171" width="344.5" height="18.6" fill="#f0f0f0" />
<text x="870.5" y="93.8" class="th" textLength="49.1" lengthAdjust="spacingAndGlyphs">Device ID</text>
<text x="935.7" y="93.8" class="th" textLength="53" lengthAdjust="spacingAndGlyphs">Alert Type</text>
<text x="1071.4" y="93.8" class="th" textLength="47" lengthAdjust="spacingAndGlyphs">Gas Type</text>
<text x="1127.1" y="93.8" class="th" textLength="42" lengthAdjust="spacingAndGlyphs">Reading</text>
<text x="1183" y="93.8" class="th" textLength="24.5" lengthAdjust="spacingAndGlyphs">Conf</text>
<rect x="864.5" y="122.4" width="343.5" height="1.4" fill="#444" />
<text x="871.5" y="137.1" class="td" textLength="56.3" lengthAdjust="spacingAndGlyphs">3973000373</text>
<text x="935.7" y="137.1" class="td" textLength="67" lengthAdjust="spacingAndGlyphs">High Gas Alert</text>
<text x="1071.4" y="137.1" class="td" textLength="15.5" lengthAdjust="spacingAndGlyphs">LEL</text>
<text x="1127.1" y="137.1" class="td" textLength="47.5" lengthAdjust="spacingAndGlyphs">Over Limit</text>
<text x="1183" y="137.1" class="td" textLength="25.5" lengthAdjust="spacingAndGlyphs">Norm</text>
<text x="871.5" y="184.6" class="td" textLength="56.3" lengthAdjust="spacingAndGlyphs">3973000373</text>
<text x="935.7" y="184.6" class="td" textLength="66" lengthAdjust="spacingAndGlyphs">Message Alert</text>
<text x="1127.1" y="184.6" class="td" textLength="18.5" lengthAdjust="spacingAndGlyphs">N/A</text>
<text x="1183" y="184.6" class="td" textLength="25.5" lengthAdjust="spacingAndGlyphs">Norm</text>
<text x="871.5" y="203.3" class="td" textLength="56.3" lengthAdjust="spacingAndGlyphs">3973000403</text>
<text x="935.7" y="203.3" class="td" textLength="67" lengthAdjust="spacingAndGlyphs">High Gas Alert</text>
<text x="1071.4" y="203.3" class="td" textLength="15.5" lengthAdjust="spacingAndGlyphs">LEL</text>
<text x="1127.1" y="203.3" class="td" textLength="47.5" lengthAdjust="spacingAndGlyphs">Over Limit</text>
<text x="1183" y="203.3" class="td" textLength="25.5" lengthAdjust="spacingAndGlyphs">Norm</text>
</g>
<rect x="1208.6" y="80.7" width="4.3" height="24.8" fill="#5f5f5f" rx="2"/>
<rect x="1218" y="70.15" width="182.45" height="142.3" fill="#fff" stroke="#000" stroke-width="1.8" />
<g clip-path="url(#b13clip)">
<linearGradient id="sh" x1="0" x2="1"><stop offset="0" stop-color="#d2d2d2"/><stop offset="0.35" stop-color="#dcdcdc"/><stop offset="1" stop-color="#ffffff"/></linearGradient>
<rect x="1221" y="72" width="6" height="140" fill="url(#sh)" />
<text x="1235.7" y="93.7" font-size="13" font-weight="bold" fill="#222" textLength="69.3" lengthAdjust="spacingAndGlyphs">Alert Notes</text>
<text x="1239.1" y="115" font-size="10.3" fill="#333" textLength="37" lengthAdjust="spacingAndGlyphs">Alert ID</text>
<rect x="1235.7" y="126.3" width="154.5" height="1.4" fill="#333" />
<text x="1239.1" y="138.7" font-size="7.4" font-weight="bold" fill="#333" textLength="30.5" lengthAdjust="spacingAndGlyphs">2450271</text>
<rect x="1235.7" y="142.8" width="154.5" height="13.7" fill="#f0f0f0" />
<text x="1246.3" y="152.8" font-size="7.4" font-weight="bold" fill="#333" textLength="84.5" lengthAdjust="spacingAndGlyphs">01/04/2018 2:16:00 PM</text>
<text x="1253.6" y="167.5" font-size="7.4" fill="#444" textLength="112.5" lengthAdjust="spacingAndGlyphs">18:55:10 MDT: Called Rob Esau at</text>
<text x="1253.6" y="178.5" font-size="7.4" fill="#444" textLength="125.5" lengthAdjust="spacingAndGlyphs">+12507195029. Spoke with Rob who</text>
<text x="1253.6" y="189.8" font-size="7.4" fill="#444" textLength="135.5" lengthAdjust="spacingAndGlyphs">stated that he will get the user to call us</text>
<text x="1253.6" y="200.1" font-size="7.4" fill="#444" textLength="42.5" lengthAdjust="spacingAndGlyphs">back. op 415</text>
<rect x="1235.7" y="202.5" width="154.5" height="12" fill="#f0f0f0" />
<text x="1239.1" y="212" font-size="7.4" font-weight="bold" fill="#333" textLength="30.5" lengthAdjust="spacingAndGlyphs">2450272</text>
</g>
<rect x="1391" y="101.8" width="4.2" height="12.9" fill="#5f5f5f" rx="2"/>
<linearGradient id="sh2" x1="0" x2="1"><stop offset="0" stop-color="#dedede"/><stop offset="1" stop-color="#fff"/></linearGradient>
<path d="M1403.3,76 q0,-3 2,-3.5 l1.7,2 V213 H1403.3 Z" fill="url(#sh2)"/>
<rect x="861.3" y="227.2" width="481.8" height="362.5" fill="#efefef" />
<text x="1081.4" y="260.2" class="tbb" text-anchor="end" textLength="79.8" lengthAdjust="spacingAndGlyphs">New Page</text>
<text x="1110.8" y="260.7" class="tbb" textLength="120.3" lengthAdjust="spacingAndGlyphs">Original Visual</text>
<line x1="876" y1="268.5" x2="1306.2" y2="268.5" stroke="#4a4a4a" stroke-width="1" />
<line x1="876" y1="308.5" x2="1306.2" y2="308.5" stroke="#dcdcdc" stroke-width="1" />
<line x1="876" y1="342.5" x2="1306.2" y2="342.5" stroke="#dcdcdc" stroke-width="1" />
<line x1="876" y1="377.5" x2="1306.2" y2="377.5" stroke="#dcdcdc" stroke-width="1" />
<line x1="876" y1="411.5" x2="1306.2" y2="411.5" stroke="#dcdcdc" stroke-width="1" />
<line x1="876" y1="446" x2="1306.2" y2="446" stroke="#dcdcdc" stroke-width="1" />
<line x1="876" y1="480.5" x2="1306.2" y2="480.5" stroke="#dcdcdc" stroke-width="1" />
<line x1="876" y1="515.5" x2="1306.2" y2="515.5" stroke="#dcdcdc" stroke-width="1" />
<line x1="876" y1="549.5" x2="1306.2" y2="549.5" stroke="#dcdcdc" stroke-width="1" />
<text x="1081.6" y="295.2" class="tb" text-anchor="end" textLength="73.7" lengthAdjust="spacingAndGlyphs">Summary</text>
<text x="1081.6" y="330.0" class="tb" text-anchor="end" >Alerts Map</text>
<text x="1081.6" y="364.2" class="tb" text-anchor="end" >Gas Alerts</text>
<text x="1081.6" y="398.7" class="tb" text-anchor="end" >Alert Logs</text>
<text x="1081.6" y="434.4" class="tb" text-anchor="end" textLength="93.5" lengthAdjust="spacingAndGlyphs">Alert Details</text>
<text x="1081.6" y="469.0" class="tb" text-anchor="end" textLength="52.6" lengthAdjust="spacingAndGlyphs">Trends</text>
<text x="1081.6" y="503.6" class="tb" text-anchor="end" textLength="197.3" lengthAdjust="spacingAndGlyphs">Alert Response Summary</text>
<text x="1081.6" y="538.3" class="tb" text-anchor="end" textLength="176.5" lengthAdjust="spacingAndGlyphs">Alert Response Details</text>
<text x="1081.6" y="573.2" class="tb" text-anchor="end" textLength="45" lengthAdjust="spacingAndGlyphs">About</text>
<circle cx="1123.8" cy="286.9" r="13.7" fill="#fff" stroke="#a6192e" stroke-width="1.7"/>
<text x="1119.27" y="293.20" font-size="16.3" font-weight="bold" fill="#a6192e">5</text>
<circle cx="1163.7" cy="286.9" r="13.7" fill="#fff" stroke="#a6192e" stroke-width="1.7"/>
<text x="1159.17" y="293.20" font-size="16.3" font-weight="bold" fill="#a6192e">6</text>
<circle cx="1203.5" cy="286.9" r="13.7" fill="#fff" stroke="#a6192e" stroke-width="1.7"/>
<text x="1198.97" y="293.20" font-size="16.3" font-weight="bold" fill="#a6192e">7</text>
<circle cx="1243.1" cy="286.9" r="13.7" fill="#fff" stroke="#a6192e" stroke-width="1.7"/>
<text x="1238.57" y="293.20" font-size="16.3" font-weight="bold" fill="#a6192e">8</text>
<circle cx="1282.7" cy="286.9" r="13.7" fill="#fff" stroke="#a6192e" stroke-width="1.7"/>
<path d="M806 0 L525 0 L525 1059 Q371 915 162 846 L162 1101 Q272 1137 401 1237.5 Q530 1338 578 1472 L806 1472 Z" fill="#a6192e" transform="translate(1273.63 293.20) scale(0.00796 -0.00796)"/>
<path d="M806 0 L525 0 L525 1059 Q371 915 162 846 L162 1101 Q272 1137 401 1237.5 Q530 1338 578 1472 L806 1472 Z" fill="#a6192e" transform="translate(1282.70 293.20) scale(0.00796 -0.00796)"/>
<circle cx="1123.8" cy="325.5" r="13.7" fill="#fff" stroke="#a6192e" stroke-width="1.7"/>
<path d="M806 0 L525 0 L525 1059 Q371 915 162 846 L162 1101 Q272 1137 401 1237.5 Q530 1338 578 1472 L806 1472 Z" fill="#a6192e" transform="translate(1119.27 331.80) scale(0.00796 -0.00796)"/>
<circle cx="1163.7" cy="325.5" r="13.7" fill="#fff" stroke="#a6192e" stroke-width="1.7"/>
<text x="1159.17" y="331.80" font-size="16.3" font-weight="bold" fill="#a6192e">5</text>
<circle cx="1123.8" cy="394.7" r="13.7" fill="#fff" stroke="#a6192e" stroke-width="1.7"/>
<path d="M806 0 L525 0 L525 1059 Q371 915 162 846 L162 1101 Q272 1137 401 1237.5 Q530 1338 578 1472 L806 1472 Z" fill="#a6192e" transform="translate(1114.73 401.00) scale(0.00796 -0.00796)"/>
<text x="1123.80" y="401.00" font-size="16.3" font-weight="bold" fill="#a6192e">2</text>
<circle cx="1124" cy="429.4" r="13.7" fill="#fff" stroke="#a6192e" stroke-width="1.7"/>
<path d="M806 0 L525 0 L525 1059 Q371 915 162 846 L162 1101 Q272 1137 401 1237.5 Q530 1338 578 1472 L806 1472 Z" fill="#a6192e" transform="translate(1114.93 435.70) scale(0.00796 -0.00796)"/>
<text x="1124.00" y="435.70" font-size="16.3" font-weight="bold" fill="#a6192e">3</text>
<circle cx="1123.8" cy="498" r="13.7" fill="#fff" stroke="#a6192e" stroke-width="1.7"/>
<text x="1119.27" y="504.30" font-size="16.3" font-weight="bold" fill="#a6192e">2</text>
<circle cx="1163.7" cy="498" r="13.7" fill="#fff" stroke="#a6192e" stroke-width="1.7"/>
<text x="1159.17" y="504.30" font-size="16.3" font-weight="bold" fill="#a6192e">3</text>
<circle cx="1203.5" cy="498" r="13.7" fill="#fff" stroke="#a6192e" stroke-width="1.7"/>
<text x="1198.97" y="504.30" font-size="16.3" font-weight="bold" fill="#a6192e">4</text>
<circle cx="1124" cy="532.6" r="13.7" fill="#fff" stroke="#a6192e" stroke-width="1.7"/>
<text x="1119.47" y="538.90" font-size="16.3" font-weight="bold" fill="#a6192e">9</text>
<g stroke="#a6192e" stroke-width="2.1" fill="none">
<line x1="216.2" y1="46" x2="204.5" y2="107"/>
<line x1="475.7" y1="46" x2="469.7" y2="60.5"/>
<line x1="610" y1="46" x2="604" y2="60.5"/>
<line x1="748.6" y1="46" x2="742" y2="60.5"/>
<line x1="783.3" y1="213.8" x2="809" y2="213.8"/>
<line x1="809" y1="298.9" x2="597.1" y2="334.8"/>
<line x1="783" y1="352.7" x2="809" y2="355"/>
<line x1="706.9" y1="370.8" x2="809" y2="408.4"/>
<line x1="524.9" y1="366" x2="809" y2="408.2"/>
<line x1="105.7" y1="580" x2="96.6" y2="606"/>
<line x1="333.9" y1="582.6" x2="317" y2="606"/>
<line x1="617.8" y1="582" x2="627.4" y2="606"/>
<line x1="1042.9" y1="70" x2="1063" y2="38.2"/>
<line x1="1270.5" y1="69.7" x2="1292.4" y2="38.2"/>
</g>
<circle cx="216.5" cy="31.4" r="15.4" fill="#fff" stroke="#a6192e" stroke-width="2.1"/>
<path d="M806 0 L525 0 L525 1059 Q371 915 162 846 L162 1101 Q272 1137 401 1237.5 Q530 1338 578 1472 L806 1472 Z" fill="#a6192e" transform="translate(211.13 38.65) scale(0.00942 -0.00942)"/>
<circle cx="475.9" cy="31.2" r="15.4" fill="#fff" stroke="#a6192e" stroke-width="2.1"/>
<text x="470.53" y="38.45" font-size="19.3" font-weight="bold" fill="#a6192e">2</text>
<circle cx="610" cy="31.1" r="15.4" fill="#fff" stroke="#a6192e" stroke-width="2.1"/>
<text x="604.63" y="38.35" font-size="19.3" font-weight="bold" fill="#a6192e">3</text>
<circle cx="748.7" cy="31.2" r="15.4" fill="#fff" stroke="#a6192e" stroke-width="2.1"/>
<text x="743.33" y="38.45" font-size="19.3" font-weight="bold" fill="#a6192e">4</text>
<circle cx="823.6" cy="213.6" r="15.4" fill="#fff" stroke="#a6192e" stroke-width="2.1"/>
<text x="818.23" y="220.85" font-size="19.3" font-weight="bold" fill="#a6192e">5</text>
<circle cx="823.6" cy="299.6" r="15.4" fill="#fff" stroke="#a6192e" stroke-width="2.1"/>
<text x="818.23" y="306.85" font-size="19.3" font-weight="bold" fill="#a6192e">6</text>
<circle cx="823.4" cy="354.4" r="15.4" fill="#fff" stroke="#a6192e" stroke-width="2.1"/>
<text x="818.03" y="361.65" font-size="19.3" font-weight="bold" fill="#a6192e">7</text>
<circle cx="823.4" cy="408.9" r="15.4" fill="#fff" stroke="#a6192e" stroke-width="2.1"/>
<text x="818.03" y="416.15" font-size="19.3" font-weight="bold" fill="#a6192e">8</text>
<circle cx="96.75" cy="620.9" r="15.4" fill="#fff" stroke="#a6192e" stroke-width="2.1"/>
<text x="91.38" y="628.15" font-size="19.3" font-weight="bold" fill="#a6192e">9</text>
<circle cx="317" cy="620.9" r="15.4" fill="#fff" stroke="#a6192e" stroke-width="2.1"/>
<path d="M806 0 L525 0 L525 1059 Q371 915 162 846 L162 1101 Q272 1137 401 1237.5 Q530 1338 578 1472 L806 1472 Z" fill="#a6192e" transform="translate(306.27 628.15) scale(0.00942 -0.00942)"/>
<text x="317.00" y="628.15" font-size="19.3" font-weight="bold" fill="#a6192e">0</text>
<circle cx="627.4" cy="620.6" r="15.4" fill="#fff" stroke="#a6192e" stroke-width="2.1"/>
<path d="M806 0 L525 0 L525 1059 Q371 915 162 846 L162 1101 Q272 1137 401 1237.5 Q530 1338 578 1472 L806 1472 Z" fill="#a6192e" transform="translate(616.67 627.85) scale(0.00942 -0.00942)"/>
<path d="M806 0 L525 0 L525 1059 Q371 915 162 846 L162 1101 Q272 1137 401 1237.5 Q530 1338 578 1472 L806 1472 Z" fill="#a6192e" transform="translate(627.40 627.85) scale(0.00942 -0.00942)"/>
<circle cx="1070.05" cy="29.5" r="15.4" fill="#fff" stroke="#a6192e" stroke-width="2.1"/>
<path d="M806 0 L525 0 L525 1059 Q371 915 162 846 L162 1101 Q272 1137 401 1237.5 Q530 1338 578 1472 L806 1472 Z" fill="#a6192e" transform="translate(1059.32 36.75) scale(0.00942 -0.00942)"/>
<text x="1070.05" y="36.75" font-size="19.3" font-weight="bold" fill="#a6192e">2</text>
<circle cx="1301.1" cy="29.7" r="15.4" fill="#fff" stroke="#a6192e" stroke-width="2.1"/>
<path d="M806 0 L525 0 L525 1059 Q371 915 162 846 L162 1101 Q272 1137 401 1237.5 Q530 1338 578 1472 L806 1472 Z" fill="#a6192e" transform="translate(1290.37 36.95) scale(0.00942 -0.00942)"/>
<text x="1301.10" y="36.95" font-size="19.3" font-weight="bold" fill="#a6192e">3</text>
</svg></body></html>
